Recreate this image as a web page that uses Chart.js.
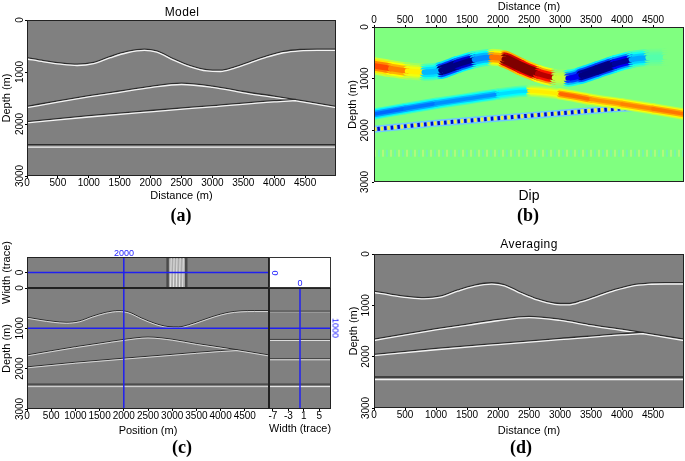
<!DOCTYPE html>
<html>
<head>
<meta charset="utf-8">
<script src="https://cdn.jsdelivr.net/npm/chart.js@4.4.1/dist/chart.umd.min.js"></script>
<style>
  body { margin: 0; background: #fff; }
  #page { position: relative; width: 685px; height: 461px; overflow: hidden;
          font-family: "Liberation Sans", Arial, sans-serif; color: #000; }
  #page canvas { position: absolute; left: 0; top: 0; }
  .txt { position: absolute; white-space: nowrap; line-height: 1; transform: translate(-50%, -50%); }
  .ttl { font-size: 12px; letter-spacing: 0.4px; }
  .tag { font-family: "Liberation Serif", "Times New Roman", serif; font-weight: bold; font-size: 18px; }
  .blue { color: #2222ff; font-size: 9px; }
  .rot { transform: translate(-50%, -50%) rotate(90deg); }
  #corner { position: absolute; left: 269px; top: 257px; width: 62px; height: 31px;
            box-sizing: border-box; background: #fff; border: 1px solid #333; }
</style>
</head>
<body>
<div id="page">
  <canvas id="chartA" width="685" height="461"></canvas>
  <canvas id="chartB" width="685" height="461"></canvas>
  <canvas id="chartC" width="685" height="461"></canvas>
  <canvas id="chartStrip" width="685" height="461"></canvas>
  <canvas id="chartTrace" width="685" height="461"></canvas>
  <canvas id="chartD" width="685" height="461"></canvas>
  <div id="corner"></div>

  <div class="txt ttl" style="left:182px;top:12px">Model</div>
  <div class="txt ttl" style="left:529px;top:244px">Averaging</div>
  <div class="txt tag" style="left:181px;top:215px">(a)</div>
  <div class="txt tag" style="left:528px;top:215px">(b)</div>
  <div class="txt tag" style="left:182px;top:447px">(c)</div>
  <div class="txt tag" style="left:521px;top:447px">(d)</div>

  <div class="txt blue" style="left:124px;top:253px">2000</div>
  <div class="txt blue rot" style="left:274px;top:273px">0</div>
  <div class="txt blue" style="left:300px;top:283px">0</div>
  <div class="txt blue rot" style="left:335px;top:328px">1000</div>
</div>

<script>
// ── Axis ticks ───────────────────────────────────────────────
const distTicks = [0, 500, 1000, 1500, 2000, 2500, 3000, 3500, 4000, 4500];
const depthTicks = [0, 1000, 2000, 3000];
const widthTicks = [-7, -3, 1, 5];
const stripTicks = [0];

// ── Reflectors (distance m, depth m) ─────
const bed1X = [0, 270, 540, 810, 1080, 1350, 1620, 1900, 2100, 2370, 2640, 2910, 3130, 3340, 3600, 3880, 4150, 4420, 4700, 5000];
const bed1Z = [750, 805, 850, 875, 840, 725, 630, 585, 620, 770, 900, 980, 990, 935, 830, 715, 630, 592, 584, 584];
const bed2X = [0, 500, 1000, 1500, 2000, 2500, 3000, 3500, 4000, 4500, 5000];
const bed2Z = [1685, 1580, 1480, 1390, 1300, 1240, 1295, 1400, 1490, 1585, 1685];
const bed3X = [0, 1000, 2000, 3000, 4000, 4350];
const bed3Z = [1980, 1865, 1765, 1670, 1575, 1552];
const bed4X = [0, 5000];
const bed4Z = [2445, 2445];

// ── (c) picks and slices ─────────────────────────────────────
const pickX = 2000;   // trace shown on the right
const pickZ = 1000;   // depth shown on top
const pickW = 0;
const cutEdgeX = [2905, 3290];                 // event crossing depth 1000
const cutStreakX = [2965, 3025, 3085, 3150, 3215];
const traceZ = [600, 1300, 1780, 2445];        // events on trace 2000
const traceShade = ["#a4a4a4", "#e2e2e2", "#e2e2e2", "#f2f2f2"];

const W = 685, H = 461;
const FONT = '"Liberation Sans", Arial, sans-serif';
const tickFont = { family: FONT, size: 10 };
const titleFont = { family: FONT, size: 11 };

const pts = (xs, zs) => xs.map((x, i) => ({ x, y: zs[i] }));
const beds = [pts(bed1X, bed1Z), pts(bed2X, bed2Z), pts(bed3X, bed3Z), pts(bed4X, bed4Z)];

// ── Plugins ──────────────────────────────────────────────────
const framePlugin = {
  id: "frame",
  beforeDatasetsDraw(chart, args, opts) {
    const { left, top, right, bottom } = chart.chartArea;
    const ctx = chart.ctx;
    ctx.save();
    ctx.fillStyle = opts.bg || "#808080";
    ctx.fillRect(left, top, right - left, bottom - top);
    ctx.restore();
  },
  afterDraw(chart) {
    const { left, top, right, bottom } = chart.chartArea;
    const ctx = chart.ctx;
    ctx.save();
    ctx.strokeStyle = "#222";
    ctx.lineWidth = 1;
    ctx.strokeRect(left + 0.5, top + 0.5, right - left - 1, bottom - top - 1);
    ctx.restore();
  },
};

// dark rim above each white reflector
const edgePlugin = {
  id: "edge",
  beforeDatasetDraw(chart, args) {
    const ds = chart.data.datasets[args.index];
    if (!ds.edge) return;
    const ctx = chart.ctx;
    ctx.save();
    ctx.shadowColor = ds.edge.color;
    ctx.shadowOffsetY = ds.edge.dy;
    ctx.shadowBlur = 0;
  },
  afterDatasetDraw(chart, args) {
    if (chart.data.datasets[args.index].edge) chart.ctx.restore();
  },
};

// depth labels written sideways, as in the original plots
const sideTicks = {
  id: "sideTicks",
  afterDraw(chart, args, opts) {
    if (!opts.offset) return;
    const s = chart.scales.y;
    const ctx = chart.ctx;
    ctx.save();
    ctx.font = `${tickFont.size}px ${FONT}`;
    ctx.fillStyle = "#000";
    ctx.textAlign = "center";
    ctx.textBaseline = "middle";
    s.ticks.forEach((t) => {
      ctx.save();
      ctx.translate(s.right - opts.offset, s.getPixelForValue(t.value));
      ctx.rotate(-Math.PI / 2);
      ctx.fillText(String(t.value), 0, 0);
      ctx.restore();
    });
    ctx.restore();
  },
};

// ── Scale helpers ────────────────────────────────────────────
const fixed = (size) => (s) => {
  if (s.isHorizontal()) s.height = size;
  else s.width = size;
};
const setTicks = (vals) => (s) => {
  s.ticks = vals.map((v) => ({ value: v }));
};

function xScale(o) {
  return {
    type: "linear",
    position: o.pos || "bottom",
    min: o.min,
    max: o.max,
    display: o.display !== false,
    afterBuildTicks: setTicks(o.ticks || []),
    afterFit: fixed(o.size || 0),
    grid: { drawOnChartArea: false, tickLength: 2, color: "#000" },
    border: { display: false },
    ticks: {
      display: !!o.ticks,
      font: tickFont,
      color: "#000",
      padding: -1,
      maxRotation: 0,
      minRotation: 0,
      autoSkip: false,
      callback: (v) => String(v),
    },
    title: {
      display: !!o.title,
      text: o.title,
      font: o.titleFont || titleFont,
      color: "#000",
      padding: { top: o.tpad || 0, bottom: o.tpad || 0 },
    },
  };
}

function yScale(o) {
  return {
    type: "linear",
    position: "left",
    min: o.min,
    max: o.max,
    reverse: !!o.reverse,
    display: o.display !== false,
    afterBuildTicks: setTicks(o.ticks || []),
    afterFit: fixed(o.size || 0),
    grid: { drawOnChartArea: false, tickLength: 2, color: "#000" },
    border: { display: false },
    ticks: { display: false },
    title: {
      display: !!o.title,
      text: o.title,
      font: titleFont,
      color: "#000",
      padding: { top: o.tpad || 0, bottom: 0 },
    },
  };
}

function makeChart(id, box, scales, datasets, plugOpts) {
  datasets.forEach((d, i) => (d.order = datasets.length - i)); // later = on top
  return new Chart(document.getElementById(id), {
    type: "line",
    data: { datasets },
    options: {
      responsive: false,
      animation: false,
      events: [],
      layout: {
        padding: {
          left: box.l - (box.axL || 0),
          top: box.t - (box.axT || 0),
          right: W - box.r,
          bottom: H - box.b - (box.axB || 0),
        },
      },
      scales,
      plugins: Object.assign({ legend: { display: false }, tooltip: { enabled: false } }, plugOpts),
    },
    plugins: [framePlugin, edgePlugin, sideTicks],
  });
}

function line(data, color, width, extra) {
  return Object.assign(
    { data, borderColor: color, borderWidth: width, pointRadius: 0, fill: false },
    extra || {}
  );
}

function grayBeds(color, width, dy) {
  return beds.map((b, i) =>
    line(b, color, width, {
      cubicInterpolationMode: "monotone",
      edge: { color: "#2c2c2c", dy: i === 3 ? -2.5 : dy },
    })
  );
}

const depthY = (o) => yScale(Object.assign({ min: 0, max: 3000, reverse: true, ticks: depthTicks, title: "Depth (m)" }, o));

// ── (a) Model ────────────────────────────────────────────────
makeChart(
  "chartA",
  { l: 27, t: 20, r: 336, b: 176, axL: 27, axB: 29 },
  {
    x: xScale({ min: 0, max: 5000, ticks: distTicks, size: 29, title: "Distance (m)", tpad: 2.4 }),
    y: depthY({ size: 27 }),
  },
  grayBeds("#f4f4f4", 1.3, -1.3),
  { frame: { bg: "#808080" }, sideTicks: { offset: 6.5 } }
);

// ── (b) Dip ──────────────────────────────────────────────────
function jet(v) {
  v = Math.max(0, Math.min(1, v));
  const c = (k) => Math.round(255 * Math.max(0, Math.min(1, 1.5 - Math.abs(4 * v - k))));
  return `rgb(${c(3)},${c(2)},${c(1)})`;
}
const dipLayers = [[19, 0.25], [15, 0.5], [11, 0.8], [6, 1]];

function dipBed(b, widthScale, gain) {
  return dipLayers.map(([w, k]) =>
    line(b, jet(0.5), w * widthScale, {
      cubicInterpolationMode: "monotone",
      borderCapStyle: "round",
      segment: {
        borderColor: (ctx) => {
          const dz = ctx.p1.parsed.y - ctx.p0.parsed.y;
          const dx = ctx.p1.parsed.x - ctx.p0.parsed.x;
          return jet(0.5 + (dz / dx) * gain * k);
        },
      },
    })
  );
}

const dipSets = [
  line(beds[3], "rgba(215,245,120,0.55)", 7, { borderDash: [2, 6] }),
  line(beds[3], "rgba(110,235,205,0.55)", 7, { borderDash: [2, 6], borderDashOffset: 4 }),
  line(beds[2], "#70c8ff", 7, { cubicInterpolationMode: "monotone" }),
  line(beds[2], "#f0f040", 4, { cubicInterpolationMode: "monotone", borderDash: [2.5, 4.2] }),
  line(beds[2], "#0008c8", 4, { cubicInterpolationMode: "monotone", borderDash: [2.5, 4.2], borderDashOffset: 3.3 }),
  ...dipBed(beds[1], 0.6, 1.3),
  ...dipBed(beds[0], 0.9, 1.5),
];

makeChart(
  "chartB",
  { l: 374, t: 27, r: 684, b: 182, axL: 29, axT: 27, axB: 23 },
  {
    x: xScale({ pos: "top", min: 0, max: 5000, ticks: distTicks, size: 27, title: "Distance (m)", tpad: 0 }),
    x2: xScale({ min: 0, max: 5000, size: 23, title: "Dip", titleFont: { family: FONT, size: 14 }, tpad: 0.6 }),
    y: depthY({ size: 29, tpad: 1.4 }),
  },
  dipSets.map((d) => Object.assign(d, { xAxisID: "x" })),
  { frame: { bg: "#80ff80" }, sideTicks: { offset: 9 } }
);

// ── (c) main panel with picks ────────────────────────────────
const blue = "#2020f0";
makeChart(
  "chartC",
  { l: 27, t: 288, r: 269, b: 409, axL: 27, axB: 29 },
  {
    x: xScale({ min: 0, max: 5000, ticks: distTicks, size: 29, title: "Position (m)", tpad: 0.4 }),
    y: depthY({ size: 27 }),
  },
  [
    ...grayBeds("#d8d8d8", 1, -1),
    line([{ x: pickX, y: 0 }, { x: pickX, y: 3000 }], blue, 1.5),
    line([{ x: 0, y: pickZ }, { x: 5000, y: pickZ }], blue, 1.5),
  ],
  { frame: { bg: "#808080" }, sideTicks: { offset: 7 } }
);

// depth slice (top strip)
makeChart(
  "chartStrip",
  { l: 27, t: 257, r: 269, b: 288, axL: 27 },
  {
    x: xScale({ min: 0, max: 5000, display: false }),
    y: yScale({ min: -8, max: 8, ticks: stripTicks, size: 27, title: "Width (trace)" }),
  },
  [
    line(
      [
        { x: cutEdgeX[0], y: -8 }, { x: cutEdgeX[0], y: 8 },
        { x: cutEdgeX[1], y: 8 }, { x: cutEdgeX[1], y: -8 },
      ],
      "#4a4a4a", 2.5, { fill: "shape", backgroundColor: "#ababab" }
    ),
    ...cutStreakX.map((x) => line([{ x, y: -8 }, { x: x + 15, y: 8 }], "#e4e4e4", 1)),
    line([{ x: pickX, y: -8 }, { x: pickX, y: 8 }], blue, 1.5),
    line([{ x: 0, y: pickW }, { x: 5000, y: pickW }], blue, 1.5),
  ],
  { frame: { bg: "#808080" }, sideTicks: { offset: 7 } }
);

// trace slice (right)
makeChart(
  "chartTrace",
  { l: 269, t: 288, r: 331, b: 409, axB: 29 },
  {
    x: xScale({ min: -8, max: 8, ticks: widthTicks, size: 29, title: "Width (trace)", tpad: 2.4 }),
    y: yScale({ min: 0, max: 3000, reverse: true, display: false }),
  },
  [
    ...traceZ.map((z, i) =>
      line([{ x: -8, y: z }, { x: 8, y: z }], traceShade[i], 1, {
        edge: { color: "#333", dy: i === 3 ? -2.5 : -1 },
      })
    ),
    line([{ x: pickW, y: 0 }, { x: pickW, y: 3000 }], blue, 1.5),
    line([{ x: -8, y: pickZ }, { x: 8, y: pickZ }], blue, 1.5),
  ],
  { frame: { bg: "#808080" } }
);

// ── (d) Averaging ────────────────────────────────────────────
makeChart(
  "chartD",
  { l: 374, t: 254, r: 684, b: 408, axL: 29, axB: 30 },
  {
    x: xScale({ min: 0, max: 5000, ticks: distTicks, size: 30, title: "Distance (m)", tpad: 0.4 }),
    y: depthY({ size: 29, tpad: 1.9 }),
  },
  grayBeds("#f4f4f4", 1.3, -1.3),
  { frame: { bg: "#808080" }, sideTicks: { offset: 8 } }
);
</script>
</body>
</html>
